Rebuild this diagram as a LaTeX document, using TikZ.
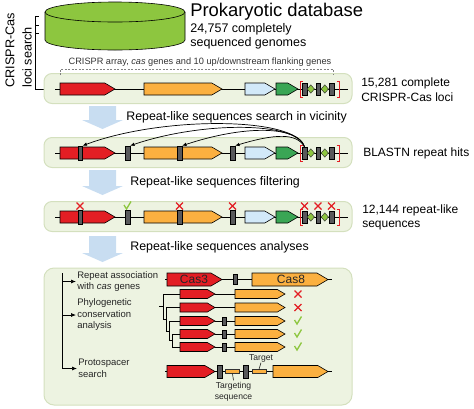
\documentclass[tikz,border=0pt]{standalone}
\usepackage{fontspec}
\setmainfont{Liberation Sans}
\usetikzlibrary{arrows.meta,shapes.geometric,positioning}

\definecolor{genered}{HTML}{E31E24}
\definecolor{geneorange}{HTML}{FBB040}
\definecolor{geneblue}{HTML}{D2E9F9}
\definecolor{genegreen}{HTML}{3AA655}
\definecolor{spacergreen}{HTML}{8DC63F}
\definecolor{panelfill}{HTML}{EDF3E1}
\definecolor{paneledge}{HTML}{D4E0BE}
\definecolor{arrowblue}{HTML}{C8DDF1}
\definecolor{repgray}{HTML}{58595B}

\tikzset{
  panel/.style={fill=panelfill, draw=paneledge, line width=1pt, rounded corners=8pt},
  rep/.style={draw=black, fill=repgray, line width=0.5pt, minimum width=4.5pt, minimum height=12pt, inner sep=0pt},
  spc/.style={diamond, draw=black!80, fill=spacergreen, minimum width=7.5pt, minimum height=8.5pt, inner sep=0pt, line width=0.5pt},
  spacer/.style={draw=black!80, fill=geneorange, minimum width=14pt, minimum height=4pt, inner sep=0pt, line width=0.5pt},
  sidelbl/.style={anchor=west, inner sep=0pt, align=left, font=\fontsize{12}{14.5}\selectfont},
  steplbl/.style={anchor=west, inner sep=0pt, font=\fontsize{12.4}{14}\selectfont},
  boxlbl/.style={anchor=west, inner sep=0pt, align=left, font=\fontsize{9.5}{11.5}\selectfont, text=black!85},
  smalllbl/.style={inner sep=0pt, align=center, font=\fontsize{8.6}{10.5}\selectfont, text=black!85},
  genelbl/.style={inner sep=0pt, font=\fontsize{12}{14}\selectfont, text=black!85},
  hitarrow/.style={-{Latex[length=4.5pt,width=3.5pt]}, line width=0.7pt},
  feed/.style={-{Latex[length=5pt,width=4pt]}, line width=0.7pt},
}

% x1, x2, y, half height, colour
\newcommand{\gene}[5]{%
  \draw[fill=#5, line width=0.6pt] (#1,#3-#4) -- ({#2-1.7*#4},#3-#4) -- (#2,#3)
    -- ({#2-1.7*#4},#3+#4) -- (#1,#3+#4) -- cycle;}
\newcommand{\markno}[2]{\draw[genered, line width=1.3pt] (#1-3.5,#2-3.5) -- (#1+3.5,#2+3.5) (#1-3.5,#2+3.5) -- (#1+3.5,#2-3.5);}
\newcommand{\markok}[2]{\draw[spacergreen, line width=1.3pt] (#1-3.5,#2-1) -- (#1-1,#2+3) -- (#1+3.5,#2-4.5);}
\newcommand{\steparrow}[2]{\fill[arrowblue] (89,#1) -- (116,#1) -- (116,#2-9) -- (123,#2-9) -- (102.5,#2) -- (82,#2-9) -- (89,#2-9) -- cycle;}

\begin{document}
\begin{tikzpicture}[x=1pt,y=-1pt,line width=0.6pt]
  \useasboundingbox (0,0) rectangle (474,408);

  % database
  \draw[fill=spacergreen] (45,12) -- (45,40) arc[start angle=180,end angle=0,x radius=70,y radius=10] -- (185,12);
  \draw[fill=spacergreen] (115,12) ellipse[x radius=70,y radius=10];
  \node[anchor=base west, inner sep=0pt, font=\fontsize{18.4}{20}\selectfont] (dbname) at (190,16) {Prokaryotic database};
  \node[anchor=base west, inner sep=0pt, font=\fontsize{12.5}{14}\selectfont] (dbcount) at (190,32) {24,757 completely};
  \node[anchor=base west, inner sep=0pt, font=\fontsize{12.5}{14}\selectfont] (dbseq) at (190,46) {sequenced genomes};

  % loci search
  \node[rotate=90, anchor=west, inner sep=0pt, font=\fontsize{12.7}{14}\selectfont] (search1) at (10,88) {CRISPR-Cas};
  \node[rotate=90, anchor=west, inner sep=0pt, font=\fontsize{12.7}{14}\selectfont] (search2) at (27,88) {loci search};
  \coordinate (a-in) at (55,89);
  \draw (35,16) -- (39,16) (35,25) -- (39,25) (35,33) -- (39,33);
  \draw[feed] (35,16) -- (35,89) -- (a-in);

  % step arrows
  \steparrow{106}{129}
  \node[steplbl] (step1) at (126,117) {Repeat-like sequences search in vicinity};
  \steparrow{170}{195}
  \node[steplbl] (step2) at (130,182) {Repeat-like sequences filtering};
  \steparrow{236}{262}
  \node[steplbl] (step3) at (130,247) {Repeat-like sequences analyses};

  % loci panels
  \foreach \y/\p in {89/a,153/b,217/c}{
    \draw[panel] (44,\y-15.5) rectangle (352,\y+14.5);
    \draw (55,\y) -- (348,\y);
    \gene{60}{115}{\y}{6}{genered}
    \gene{144}{222}{\y}{6}{geneorange}
    \gene{245}{275}{\y}{6}{geneblue}
    \gene{276}{298}{\y}{6}{genegreen}
    \node[rep] (\p-c1) at (304.5,\y) {};
    \node[spc] (\p-s1) at (310.8,\y) {};
    \node[rep] (\p-c2) at (318,\y) {};
    \node[spc] (\p-s2) at (324.8,\y) {};
    \node[rep] (\p-c3) at (331.5,\y) {};
    \draw[genered, line width=1pt] (302.5,\y-8) -- (300,\y-8) -- (300,\y+8) -- (302.5,\y+8)
      (336.5,\y-8) -- (339,\y-8) -- (339,\y+8) -- (336.5,\y+8);
  }
  \draw[dashed, black!50, dash pattern=on 2pt off 1.5pt] (60,75) -- (60,69) -- (333,69) -- (333,75);
  \node[inner sep=0pt, font=\fontsize{9.2}{11}\selectfont, text=black!80] (span) at (200,62.5)
    {CRISPR array, \textit{cas} genes and 10 up/downstream flanking genes};

  % repeat hits
  \foreach \x [count=\i] in {80,127.5,179.5,232.5}{
    \node[rep, minimum height=14pt] (b-h\i) at (\x,153) {};
    \node[rep, minimum height=14pt] (c-h\i) at (\x,217) {};
  }
  \draw[hitarrow] (b-c1.north) .. controls +(-8,-30) and +(80,-30) .. (b-h1.north east);
  \draw[hitarrow] (b-c1.north) .. controls +(-8,-26) and +(70,-24) .. (b-h2.north east);
  \draw[hitarrow] (b-c1.north) .. controls +(-8,-22) and +(60,-20) .. (b-h3.north east);
  \draw[hitarrow] (b-c1.north) .. controls +(-8,-14) and +(40,-12) .. (b-h4.north east);

  % filtering
  \foreach \x in {80,179.5,232.5,304.5,318,331.5}{\markno{\x}{206}}
  \markok{127.5}{206}

  \node[sidelbl] (found) at (361,89.5) {15,281 complete\\CRISPR-Cas loci};
  \node[sidelbl] (blast) at (363,153) {BLASTN repeat hits};
  \node[sidelbl] (kept) at (362,217.5) {12,144 repeat-like\\sequences};

  % analyses
  \draw[panel, rounded corners=10pt] (44,268) rectangle (352,405);
  \coordinate (spine) at (62,273);
  \node[boxlbl] (assoc) at (77,281.5) {Repeat association\\with \textit{cas} genes};
  \node[boxlbl] (phylo) at (77,315) {Phylogenetic\\conservation\\analysis};
  \node[boxlbl] (proto) at (78,368.5) {Protospacer\\search};
  \draw[feed] (spine) -- (proto.west -| spine) -- ([xshift=-1pt]proto.west);
  \draw[feed] (assoc.west -| spine) -- ([xshift=-1pt]assoc.west);
  \draw[feed] (phylo.west -| spine) -- ([xshift=-1pt]phylo.west);

  \draw (165,279.5) -- (332,279.5);
  \gene{167}{222}{279.5}{6.5}{genered}
  \node[rep, minimum height=10pt] (q-r0) at (235,279.5) {};
  \gene{252}{328}{279.5}{6.5}{geneorange}
  \node[genelbl] (cas3) at (194,279.5) {Cas3};
  \node[genelbl] (cas8) at (291,279.5) {Cas8};

  \foreach \y in {294,307.5,321,334,347}{
    \draw (215,\y) -- (235,\y);
    \gene{180}{215}{\y}{4.5}{genered}
    \gene{235}{285}{\y}{4.5}{geneorange}
  }
  \foreach \y [count=\i] in {321,334,347}{\node[rep, minimum width=3.5pt, minimum height=8pt] (q-r\i) at (224,\y) {};}
  \draw (159,306.6) -- (163,306.6) (163,294) -- (163,319.1) (163,294) -- (180,294)
    (163,319.1) -- (166,319.1) (166,307.5) -- (166,330.8) (166,307.5) -- (180,307.5)
    (166,330.8) -- (169,330.8) (169,321) -- (169,340.5) (169,321) -- (180,321)
    (169,340.5) -- (172,340.5) (172,334) -- (172,347) (172,334) -- (180,334) (172,347) -- (180,347);
  \markno{298}{294} \markno{298}{307.5}
  \markok{298}{321} \markok{298}{334} \markok{298}{347}

  \draw (165,371.5) -- (332,371.5);
  \gene{167}{215}{371.5}{6}{genered}
  \node[rep, minimum height=13pt] (p-r1) at (219.5,371.5) {};
  \node[spacer] (tseq) at (232.5,371.5) {};
  \node[rep, minimum height=13pt] (p-r2) at (245.5,371.5) {};
  \node[spacer] (tgt) at (259,371.5) {};
  \gene{273}{328}{371.5}{6}{geneorange}
  \node[smalllbl] (tgtlbl) at (261,358.5) {Target};
  \node[smalllbl] (tseqlbl) at (233.5,392) {Targeting\\sequence};
  \draw[line width=0.5pt] (tgtlbl.south) -- (tgt.north);
  \draw[line width=0.5pt] (tseq.south) -- ([yshift=2pt]tseqlbl.north);
\end{tikzpicture}
\end{document}
